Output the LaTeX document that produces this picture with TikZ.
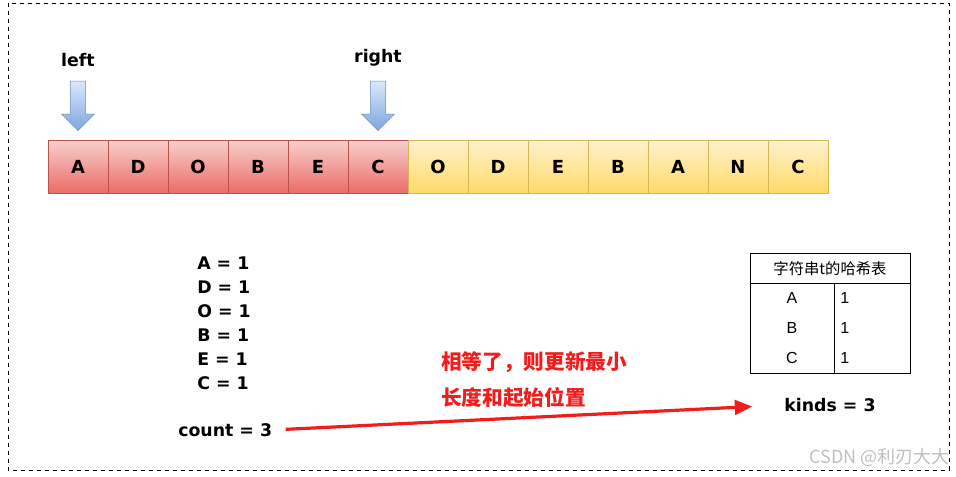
\documentclass[tikz,border=0pt]{standalone}
\usepackage{fontspec}
\setmainfont{Liberation Sans}
\newfontfamily\cjk{Noto Sans CJK SC}
\newfontfamily\hand{DejaVu Sans}
\usepackage{xcolor}
\usepackage{tikz}
\usetikzlibrary{arrows.meta,shapes.arrows,calc}

\definecolor{redtop}{HTML}{F8CECC}
\definecolor{redbot}{HTML}{EA6B66}
\definecolor{redline}{HTML}{B85450}
\definecolor{yeltop}{HTML}{FFF2CC}
\definecolor{yelbot}{HTML}{FFD966}
\definecolor{yelline}{HTML}{D6B656}
\definecolor{bluetop}{HTML}{DAE8FC}
\definecolor{bluebot}{HTML}{7EA6E0}
\definecolor{blueline}{HTML}{6C8EBF}
\definecolor{hotred}{HTML}{F21C1C}

\begin{document}
\begin{tikzpicture}[x=0.75pt,y=-0.75pt,
    cell/.style={draw,thin,minimum width=45pt,minimum height=40pt,inner sep=0pt,
      font=\hand\fontsize{13.5}{16}\selectfont\bfseries},
    redcell/.style={cell,draw=redline,top color=redtop,bottom color=redbot},
    yelcell/.style={cell,draw=yelline,top color=yeltop,bottom color=yelbot},
    pointer/.style={single arrow,draw=blueline,top color=bluetop,bottom color=bluebot,
      shape border rotate=270,minimum height=37pt,minimum width=24pt,
      single arrow head extend=6.5pt,inner sep=5.5pt},
    cnt/.style={font=\hand\fontsize{13}{16}\selectfont\bfseries,inner sep=0pt},
    note/.style={text=hotred,font=\cjk\bfseries\fontsize{15.5}{18}\selectfont,anchor=west,inner sep=0pt},
    tbl/.style={font=\fontsize{12}{14}\selectfont,inner sep=0pt}]
        \useasboundingbox (0,0) rectangle (956,477);
        % Outer frame
        \draw[dashed,thin] (8,3) rectangle (949,470);

        % Window cells (red) and rest of the string (yellow)
        \foreach \ch [count=\i] in {A,D,O,B,E,C}
          \node[redcell] (c\i) at ({18+60*\i},167) {\ch};
        \foreach \ch [count=\i from 7] in {O,D,E,B,A,N,C}
          \node[yelcell] (c\i) at ({18+60*\i},167) {\ch};

        % Pointers
        \node[cnt] (left) at (78,60) {left};
        \node[cnt] (right) at (378,58) {right};
        \node[pointer] (lptr) at (78,102) {};
        \node[pointer] (rptr) at (378,102) {};

        % Counts in the window
        \foreach \ch [count=\i] in {A,D,O,B,E,C}
          \node[cnt,anchor=west] (m\i) at (197,{239+24*\i}) {\ch{} = 1};
        \node[cnt,anchor=west] (count) at (178,430) {count = 3};

        % Hash table of t
        \draw[thin] (750,253) rectangle (910,373);
        \draw[thin] (750,283) -- (910,283);
        \draw[thin] (834,283) -- (834,373);
        \node[tbl,font=\cjk\fontsize{11.5}{14}\selectfont] (head) at (830,269) {字符串t的哈希表};
        \foreach \k [count=\i] in {A,B,C} {
          \node[tbl] (k\i) at (792,{268+30*\i}) {\k};
          \node[tbl,anchor=west] (v\i) at (840,{268+30*\i}) {1};
        }
        \node[cnt] (kinds) at (830,405) {kinds = 3};

        % Update note
        \node[note] (msg1) at (441,362) {相等了，则更新最小};
        \node[note] (msg2) at (441,398) {长度和起始位置};
        \draw[hotred,line width=2.4pt,-{Triangle[length=13pt,width=11pt]},
          shorten <=10pt,shorten >=24pt] (count.east) -- (kinds.west);

        % Watermark
        \node[text=black!25,font=\cjk\fontsize{13.5}{16}\selectfont,anchor=east,inner sep=0pt]
          (mark) at (950,458) {CSDN @利刃大大};
      \end{tikzpicture}
\end{document}
